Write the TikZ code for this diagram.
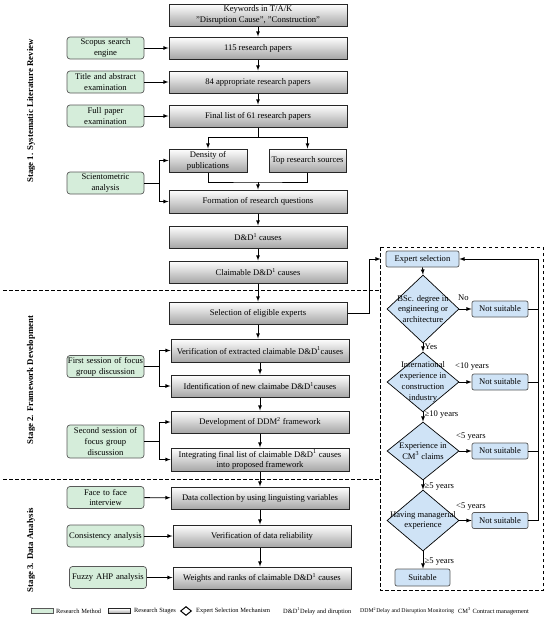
\documentclass[tikz,border=0pt]{standalone}
\usepackage{fontspec}
\setmainfont{Liberation Serif}
\usetikzlibrary{shapes.geometric}

\definecolor{methodgreen}{HTML}{D5EDDA}
\definecolor{mechblue}{HTML}{CFE3F6}
\definecolor{stagegray}{HTML}{A6A6A6}

\begin{document}
\begin{tikzpicture}[x=1pt, y=-1pt,
    font=\fontsize{8.6}{10.8}\selectfont,
    stage/.style={rectangle, draw=black!85, line width=1pt, top color=white,
        bottom color=stagegray, minimum width=178pt, minimum height=22pt,
        inner xsep=0.5pt, inner ysep=0pt, align=center},
    method/.style={rectangle, rounded corners=3pt, draw=black!65, line width=0.7pt,
        fill=methodgreen, text width=77pt, minimum height=22pt,
        inner xsep=0pt, inner ysep=0pt, align=center},
    check/.style={diamond, draw=black, line width=0.7pt, fill=mechblue,
        minimum width=72pt, inner sep=0pt},
    checktext/.style={align=center, inner sep=0pt, font=\fontsize{8.6}{10.8}\selectfont},
    result/.style={rectangle, rounded corners=2pt, draw=black!65, line width=0.7pt,
        fill=mechblue, minimum width=56pt, minimum height=16pt, inner sep=1pt},
    arrow/.style={line width=0.8pt, -latex},
    link/.style={line width=0.8pt},
    divider/.style={line width=0.9pt, dash pattern=on 3.5pt off 2.5pt},
    note/.style={inner sep=0pt, anchor=west},
    stagename/.style={rotate=90, font=\bfseries\fontsize{8.8}{11}\selectfont},
    keybox/.style={rectangle, line width=0.7pt, minimum width=22pt,
        minimum height=4.5pt, inner sep=0pt},
    keytext/.style={inner sep=0pt, anchor=west, font=\fontsize{6.4}{7}\selectfont}
]
    \useasboundingbox (0,0) rectangle (550,621);

    \node[stagename] (stageone) at (31,111) {Stage 1. Systematic Literature Review};
    \node[stagename] (stagetwo) at (31,380) {Stage 2. Framework Development};
    \node[stagename] (stagethree) at (31,550) {Stage 3. Data Analysis};

    \node[stage] (keywords) at (258,15) {Keywords in T/A/K\\"Disruption Cause", "Construction"};
    \node[stage] (found) at (258,48) {115 research papers};
    \node[stage] (appropriate) at (258,82) {84 appropriate research papers};
    \node[stage] (finallist) at (258,116) {Final list of 61 research papers};
    \node[stage, minimum width=78pt, minimum height=23pt] (density) at (208,160.5) {Density of\\publications};
    \node[stage, minimum width=77pt, minimum height=23pt] (sources) at (307.5,160.5) {Top research sources};
    \node[stage, minimum height=23pt] (questions) at (258,201.5) {Formation of research questions};
    \node[stage] (causes) at (258,237) {D\&D\textsuperscript{1} causes};
    \node[stage] (claimable) at (258,272) {Claimable D\&D\textsuperscript{1} causes};
    \node[stage] (experts) at (258,313) {Selection of eligible experts};
    \node[stage, minimum height=23pt] (verify) at (260,350.5) {Verification of extracted claimable D\&D\textsuperscript{1}causes};
    \node[stage] (identify) at (260,386) {Identification of new claimabe D\&D\textsuperscript{1}causes};
    \node[stage] (develop) at (260,422) {Development of DDM\textsuperscript{2} framework};
    \node[stage, minimum height=23pt] (integrate) at (260,459.5) {Integrating final list of claimable D\&D\textsuperscript{1} causes\\into proposed framework};
    \node[stage] (collect) at (260,498) {Data collection by using linguisting variables};
    \node[stage] (reliable) at (262,536) {Verification of data reliability};
    \node[stage] (weights) at (262,578) {Weights and ranks of claimable D\&D\textsuperscript{1} causes};

    \node[method] (scopus) at (105.5,48) {Scopus search\\engine};
    \node[method] (titleabs) at (105.5,82) {Title and abstract\\examination};
    \node[method] (fullpaper) at (105.5,116) {Full paper\\examination};
    \node[method] (sciento) at (105.5,183) {Scientometric\\analysis};
    \node[method] (firstfocus) at (105.5,366.5) {First session of focus\\group discussion};
    \node[method, minimum height=33pt] (secondfocus) at (105.5,441.5) {Second session of\\focus group\\discussion};
    \node[method] (interview) at (105.5,497.5) {Face to face\\interview};
    \node[method] (consist) at (105.5,536) {Consistency analysis};
    \node[method] (fuzzy) at (108,577.5) {Fuzzy AHP analysis};

    \node[result, minimum width=73pt] (expsel) at (422.5,259) {Expert selection};
    \node[check, minimum height=68pt,
        label={[checktext]center:{BSc. degree in\\engineering or\\architecture}}] (degree) at (423,309) {};
    \node[check, minimum height=60pt,
        label={[checktext]center:{International\\experience in\\construction\\industry}}] (intl) at (423,382) {};
    \node[check, minimum height=58pt,
        label={[checktext]center:{Experience in\\CM\textsuperscript{3} claims}}] (cmexp) at (423,451) {};
    \node[check, minimum height=61pt,
        label={[checktext]center:{Having managerial\\experience}}] (manage) at (423,520.5) {};
    \node[result] (unfitone) at (500,309) {Not suitable};
    \node[result] (unfittwo) at (500,382) {Not suitable};
    \node[result] (unfitthree) at (500,451) {Not suitable};
    \node[result] (unfitfour) at (500,520.5) {Not suitable};
    \node[result, minimum width=55pt, minimum height=17pt] (suitable) at (422.5,577.5) {Suitable};

    \node[note] (no) at (458,298) {No};
    \node[note] (yes) at (424.5,347) {Yes};
    \node[note] (lessten) at (455,367) {<10 years};
    \node[note] (moreten) at (424.5,415) {≥10 years};
    \node[note] (lessfive) at (456,437) {<5 years};
    \node[note] (morefive) at (424.5,487) {≥5 years};
    \node[note] (lessfivem) at (456,507) {<5 years};
    \node[note] (morefivem) at (424.5,562) {≥5 years};

    \draw[arrow] (keywords) -- (found);
    \draw[arrow] (found) -- (appropriate);
    \draw[arrow] (appropriate) -- (finallist);
    \draw[link] (finallist.south) -- ++(0,10) coordinate (split);
    \draw[arrow] (split) -| (density.north);
    \draw[arrow] (split) -| (sources.north);
    \coordinate (merge) at (258,182);
    \draw[link] (density.south) |- (merge) -| (sources.south);
    \draw[arrow] (merge) -- (questions.north);
    \draw[arrow] (questions) -- (causes);
    \draw[arrow] (causes) -- (claimable);
    \draw[arrow] (claimable) -- (experts);
    \draw[arrow] (experts.south) -- (experts.south |- verify.north);
    \draw[arrow] (verify) -- (identify);
    \draw[arrow] (identify) -- (develop);
    \draw[arrow] (develop) -- (integrate);
    \draw[arrow] (integrate) -- (collect);
    \draw[arrow] (collect.south) -- (collect.south |- reliable.north);
    \draw[arrow] (reliable.south -| collect.south) -- (collect.south |- weights.north);

    \draw[arrow] (scopus) -- (found);
    \draw[arrow] (titleabs) -- (appropriate);
    \draw[arrow] (fullpaper) -- (finallist);
    \draw[link] (sciento.east) -- ++(15,0) coordinate (scibranch);
    \draw[arrow] (scibranch) |- (density.west);
    \draw[arrow] (scibranch) |- (questions.west);
    \draw[link] (firstfocus.east) -- ++(15,0) coordinate (firstbranch);
    \draw[arrow] (firstbranch) |- (verify.west);
    \draw[arrow] (firstbranch) |- (identify.west);
    \draw[link] (secondfocus.east) -- ++(15,0) coordinate (secondbranch);
    \draw[arrow] (secondbranch) |- (develop.west);
    \draw[arrow] (secondbranch) |- (integrate.west);
    \draw[arrow] (interview) -- (collect);
    \draw[arrow] (consist) -- (consist -| reliable.west);
    \draw[arrow] (fuzzy) -- (fuzzy -| weights.west);

    \draw[arrow, shorten >=5pt] (experts.east) -- ++(22,0) |- (expsel.west);
    \draw[arrow] (expsel.south) -- (degree.north);
    \draw[arrow] (degree) -- (unfitone);
    \draw[arrow] (degree) -- (intl);
    \draw[arrow] (intl) -- (unfittwo);
    \draw[arrow] (intl) -- (cmexp);
    \draw[arrow] (cmexp) -- (unfitthree);
    \draw[arrow] (cmexp) -- (manage);
    \draw[arrow] (manage) -- (unfitfour);
    \draw[arrow] (manage.south) -- (manage.south |- suitable.north);
    \coordinate (rail) at (538,259);
    \draw[link] (unfitone.east) -- (unfitone.east -| rail);
    \draw[link] (unfittwo.east) -- (unfittwo.east -| rail);
    \draw[link] (unfitthree.east) -- (unfitthree.east -| rail);
    \draw[arrow] (unfitfour.east) -| (rail) -- (expsel.east);

    \draw[divider] (3,290) -- (380,290);
    \draw[divider] (3,479) -- (380,479);
    \draw[divider] (380,247) rectangle (543,590);

    \node[keybox, draw=black!65, fill=methodgreen] (keymethod) at (42,611) {};
    \node[keytext] (keymethodtext) at (56,611) {Research Method};
    \node[keybox, draw=black!85, line width=1pt, top color=white, bottom color=stagegray] (keystage) at (119,611) {};
    \node[keytext] (keystagetext) at (134,611) {Research Stages};
    \node[diamond, draw=black, line width=1pt, fill=white, minimum width=11pt,
        minimum height=9pt, inner sep=0pt] (keycheck) at (186,611) {};
    \node[keytext] (keychecktext) at (196,611) {Expert Selection Mechanism};
    \node[keytext] (keydd) at (283,611) {D\&D\textsuperscript{1}Delay and diruption};
    \node[keytext, font=\fontsize{5.8}{7}\selectfont] (keyddm) at (360,611) {DDM\textsuperscript{2}Delay and Disruption Monitoring};
    \node[keytext] (keycm) at (458,611) {CM\textsuperscript{3} Contract management};
\end{tikzpicture}
\end{document}
